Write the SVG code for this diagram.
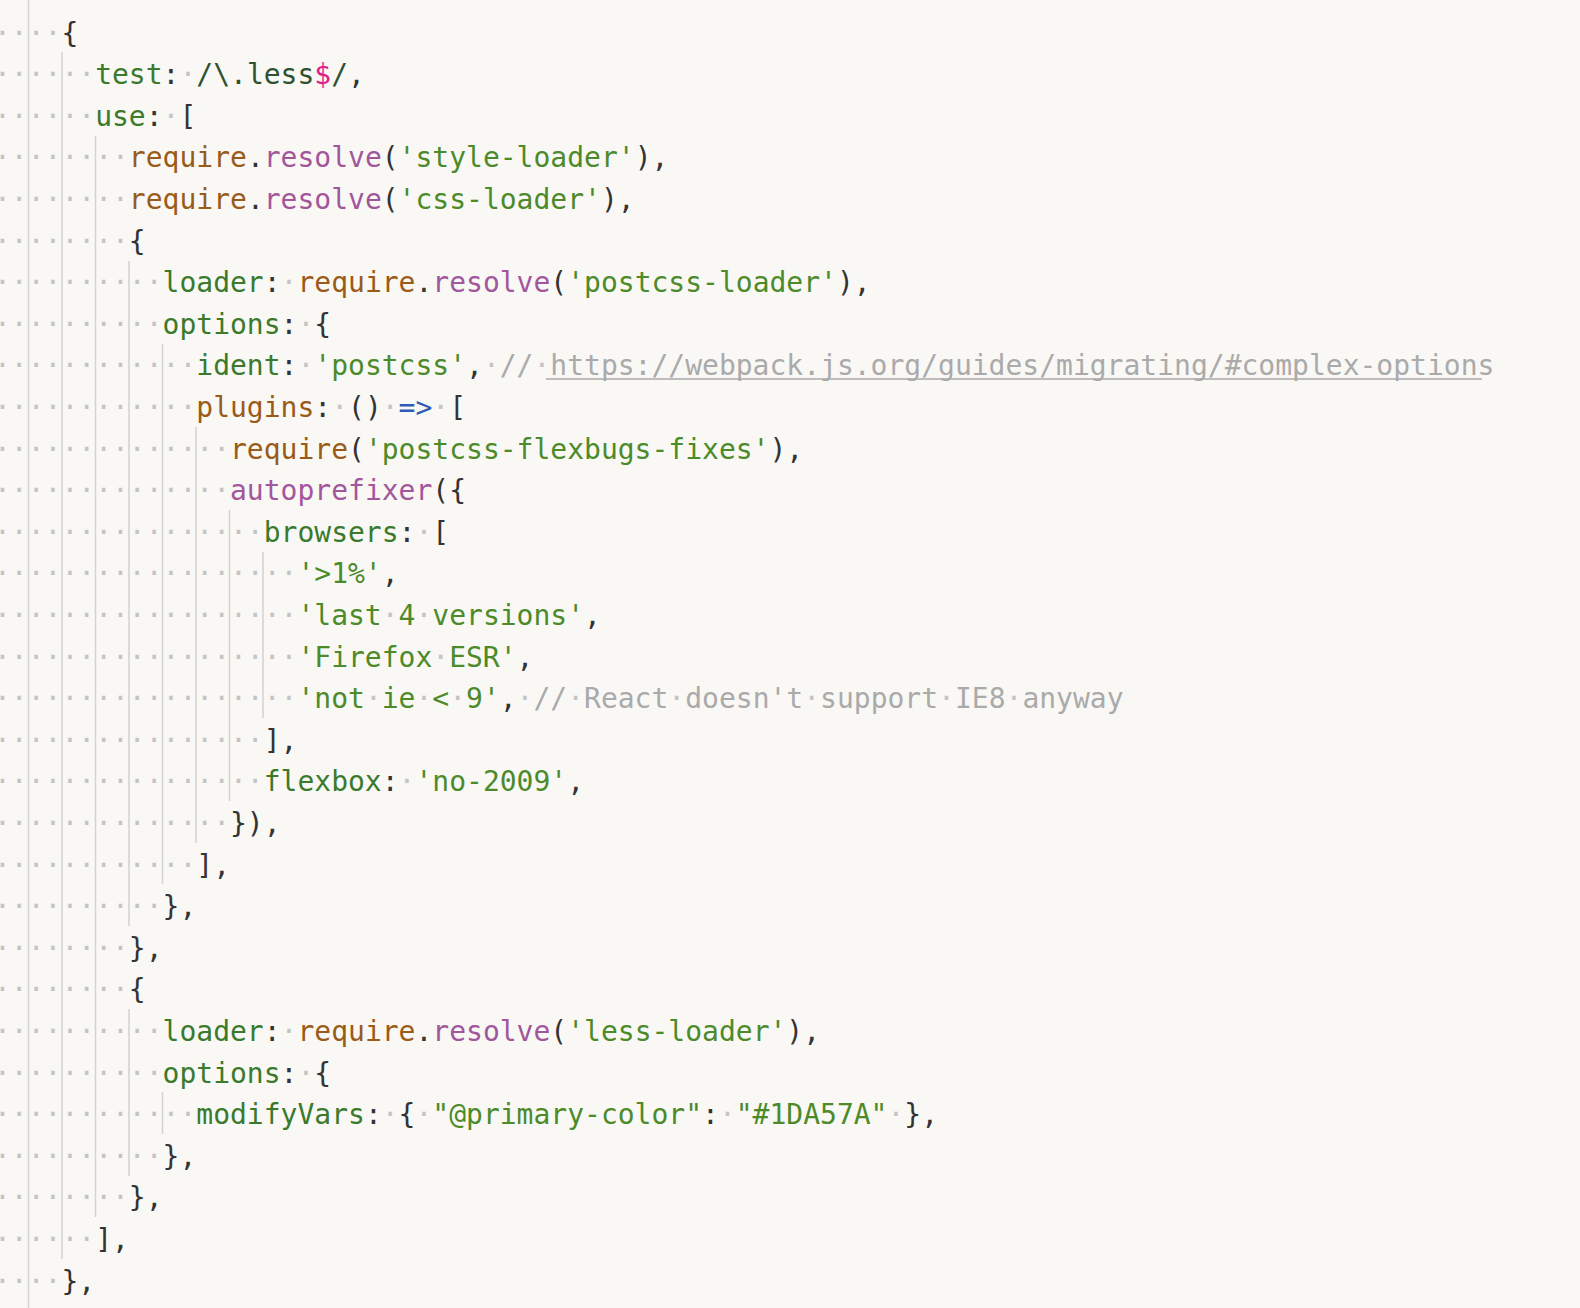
<svg xmlns="http://www.w3.org/2000/svg" width="1580" height="1308" viewBox="0 0 1580 1308">
<style>
text{font-family:"DejaVu Sans Mono","Liberation Mono",monospace;font-size:28px;white-space:pre;fill:#333}
.d{fill:#c4c4c4}.k{fill:#3b7a2c}.s{fill:#4c8a2a}.r{fill:#9a5b18}.f{fill:#a2569c}.c{fill:#aaaaaa}.m{fill:#e0218a}.b{fill:#2e5bb5}.x{fill:#2f5130}
.g{stroke:#d2d2d2;stroke-width:1.5}
</style>
<rect width="1580" height="1308" fill="#f9f8f5"/>
<g id="guides">
<line class="g" x1="28.5" y1="0" x2="28.5" y2="1308"/>
<line class="g" x1="62" y1="52" x2="62" y2="1259"/>
<line class="g" x1="95.5" y1="136" x2="95.5" y2="1217"/>
<line class="g" x1="129" y1="261" x2="129" y2="926"/>
<line class="g" x1="129" y1="1009" x2="129" y2="1176"/>
<line class="g" x1="162.5" y1="344" x2="162.5" y2="884"/>
<line class="g" x1="162.5" y1="1092" x2="162.5" y2="1134"/>
<line class="g" x1="196" y1="427" x2="196" y2="843"/>
<line class="g" x1="229.5" y1="510" x2="229.5" y2="801"/>
<line class="g" x1="263" y1="552" x2="263" y2="718"/>
<line x1="546" y1="379" x2="1482" y2="379" stroke="#aaaaaa" stroke-width="1.5"/>
</g>
<g id="code" transform="translate(0,2.5)">
<text x="-6" y="40"><tspan class="d">····</tspan>{</text>
<text x="-6" y="81.6"><tspan class="d">······</tspan><tspan class="k">test</tspan>:<tspan class="d">·</tspan><tspan class="x">/\.less</tspan><tspan class="m">$</tspan><tspan class="x">/</tspan>,</text>
<text x="-6" y="123.2"><tspan class="d">······</tspan><tspan class="k">use</tspan>:<tspan class="d">·</tspan>[</text>
<text x="-6" y="164.8"><tspan class="d">········</tspan><tspan class="r">require</tspan>.<tspan class="f">resolve</tspan>(<tspan class="s">'style-loader'</tspan>),</text>
<text x="-6" y="206.4"><tspan class="d">········</tspan><tspan class="r">require</tspan>.<tspan class="f">resolve</tspan>(<tspan class="s">'css-loader'</tspan>),</text>
<text x="-6" y="248"><tspan class="d">········</tspan>{</text>
<text x="-6" y="289.6"><tspan class="d">··········</tspan><tspan class="k">loader</tspan>:<tspan class="d">·</tspan><tspan class="r">require</tspan>.<tspan class="f">resolve</tspan>(<tspan class="s">'postcss-loader'</tspan>),</text>
<text x="-6" y="331.2"><tspan class="d">··········</tspan><tspan class="k">options</tspan>:<tspan class="d">·</tspan>{</text>
<text x="-6" y="372.8"><tspan class="d">············</tspan><tspan class="k">ident</tspan>:<tspan class="d">·</tspan><tspan class="s">'postcss'</tspan>,<tspan class="d">·</tspan><tspan class="c">//</tspan><tspan class="d">·</tspan><tspan class="c">https://webpack.js.org/guides/migrating/#complex-options</tspan></text>
<text x="-6" y="414.4"><tspan class="d">············</tspan><tspan class="r">plugins</tspan>:<tspan class="d">·</tspan>()<tspan class="d">·</tspan><tspan class="b">=&gt;</tspan><tspan class="d">·</tspan>[</text>
<text x="-6" y="456"><tspan class="d">··············</tspan><tspan class="r">require</tspan>(<tspan class="s">'postcss-flexbugs-fixes'</tspan>),</text>
<text x="-6" y="497.6"><tspan class="d">··············</tspan><tspan class="f">autoprefixer</tspan>({</text>
<text x="-6" y="539.2"><tspan class="d">················</tspan><tspan class="k">browsers</tspan>:<tspan class="d">·</tspan>[</text>
<text x="-6" y="580.8"><tspan class="d">··················</tspan><tspan class="s">'&gt;1%'</tspan>,</text>
<text x="-6" y="622.4"><tspan class="d">··················</tspan><tspan class="s">'last</tspan><tspan class="d">·</tspan><tspan class="s">4</tspan><tspan class="d">·</tspan><tspan class="s">versions'</tspan>,</text>
<text x="-6" y="664"><tspan class="d">··················</tspan><tspan class="s">'Firefox</tspan><tspan class="d">·</tspan><tspan class="s">ESR'</tspan>,</text>
<text x="-6" y="705.6"><tspan class="d">··················</tspan><tspan class="s">'not</tspan><tspan class="d">·</tspan><tspan class="s">ie</tspan><tspan class="d">·</tspan><tspan class="s">&lt;</tspan><tspan class="d">·</tspan><tspan class="s">9'</tspan>,<tspan class="d">·</tspan><tspan class="c">//</tspan><tspan class="d">·</tspan><tspan class="c">React</tspan><tspan class="d">·</tspan><tspan class="c">doesn't</tspan><tspan class="d">·</tspan><tspan class="c">support</tspan><tspan class="d">·</tspan><tspan class="c">IE8</tspan><tspan class="d">·</tspan><tspan class="c">anyway</tspan></text>
<text x="-6" y="747.2"><tspan class="d">················</tspan>],</text>
<text x="-6" y="788.8"><tspan class="d">················</tspan><tspan class="k">flexbox</tspan>:<tspan class="d">·</tspan><tspan class="s">'no-2009'</tspan>,</text>
<text x="-6" y="830.4"><tspan class="d">··············</tspan>}),</text>
<text x="-6" y="872"><tspan class="d">············</tspan>],</text>
<text x="-6" y="913.6"><tspan class="d">··········</tspan>},</text>
<text x="-6" y="955.2"><tspan class="d">········</tspan>},</text>
<text x="-6" y="996.8"><tspan class="d">········</tspan>{</text>
<text x="-6" y="1038.4"><tspan class="d">··········</tspan><tspan class="k">loader</tspan>:<tspan class="d">·</tspan><tspan class="r">require</tspan>.<tspan class="f">resolve</tspan>(<tspan class="s">'less-loader'</tspan>),</text>
<text x="-6" y="1080"><tspan class="d">··········</tspan><tspan class="k">options</tspan>:<tspan class="d">·</tspan>{</text>
<text x="-6" y="1121.6"><tspan class="d">············</tspan><tspan class="k">modifyVars</tspan>:<tspan class="d">·</tspan>{<tspan class="d">·</tspan><tspan class="s">"@primary-color"</tspan>:<tspan class="d">·</tspan><tspan class="s">"#1DA57A"</tspan><tspan class="d">·</tspan>},</text>
<text x="-6" y="1163.2"><tspan class="d">··········</tspan>},</text>
<text x="-6" y="1204.8"><tspan class="d">········</tspan>},</text>
<text x="-6" y="1246.4"><tspan class="d">······</tspan>],</text>
<text x="-6" y="1288"><tspan class="d">····</tspan>},</text>
</g>
</svg>
